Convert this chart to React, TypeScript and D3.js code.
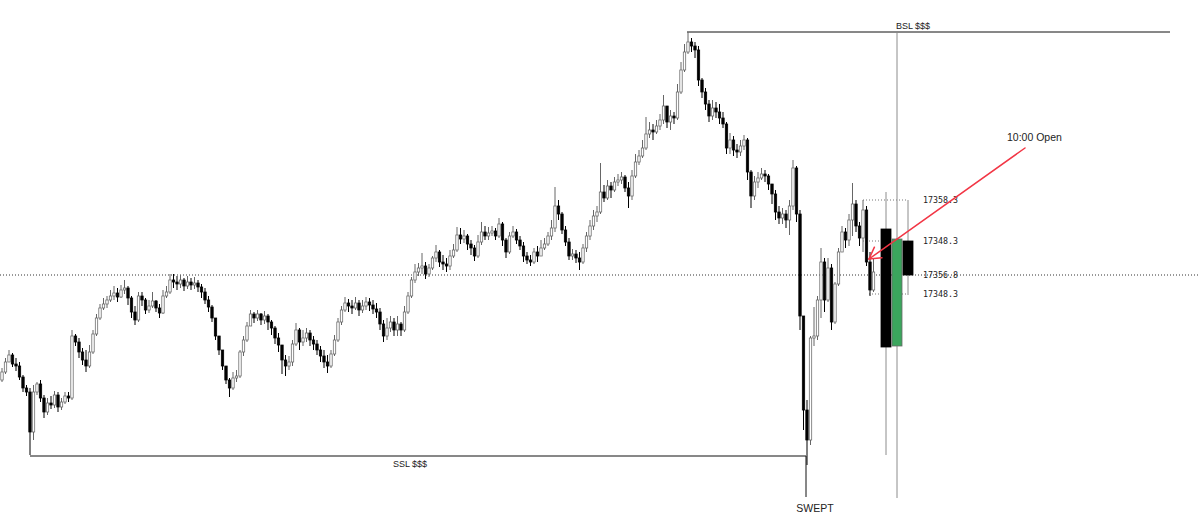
import React from 'react';
import * as d3 from 'd3';

// ---- Data (price units, arbitrary index scale) ----
const firstOpen = 120;
const closes = [
  128, 138, 145, 136, 134, 123, 112, 108, 68, 108,
  116, 102, 88, 97, 95, 105, 93, 98, 104, 102,
  164, 158, 148, 140, 134, 148, 166, 182, 192, 196,
  200, 204, 207, 203, 210, 212, 202, 188, 180, 204,
  200, 190, 194, 199, 192, 187, 204, 208, 220, 218,
  216, 220, 214, 218, 215, 217, 213, 208, 200, 193,
  182, 164, 150, 134, 120, 112, 122, 124, 148, 160,
  174, 186, 182, 186, 180, 184, 178, 172, 162, 155,
  140, 134, 138, 156, 170, 158, 162, 167, 160, 156,
  150, 144, 138, 134, 146, 160, 178, 190, 197, 194,
  192, 197, 190, 194, 198, 195, 191, 188, 176, 164,
  172, 178, 170, 176, 170, 188, 204, 220, 228, 232,
  234, 226, 232, 242, 248, 238, 236, 234, 244, 250,
  265, 261, 264, 256, 252, 244, 258, 268, 264, 267,
  269, 264, 276, 260, 248, 264, 268, 260, 254, 244,
  240, 238, 248, 244, 252, 256, 264, 272, 294, 286,
  270, 258, 244, 246, 242, 238, 252, 264, 274, 284,
  288, 308, 302, 314, 310, 318, 320, 323, 312, 304,
  324, 338, 344, 352, 366, 370, 368, 374, 380, 394,
  378, 384, 382, 408, 430, 448, 458, 454, 450, 420,
  408, 396, 384, 392, 388, 382, 376, 352, 360, 350,
  348, 354, 360, 328, 304, 318, 322, 326, 324, 316,
  306, 288, 282, 286, 280, 294, 332, 286, 184, 90,
  60, 162, 164, 200, 238, 200, 232, 178, 216, 248,
  268, 260, 280, 296, 274, 262, 290, 238, 210, 228,
];
const highs = [
  132, 142, 150, 147, 142, 138, 125, 115, 112, 115,
  118, 120, 105, 102, 104, 109, 108, 102, 108, 108,
  170, 166, 162, 152, 150, 155, 170, 186, 196, 202,
  204, 210, 214, 212, 215, 220, 214, 204, 194, 208,
  208, 202, 200, 208, 200, 196, 210, 214, 226, 226,
  224, 225, 222, 224, 222, 223, 220, 216, 212, 204,
  195, 182, 164, 150, 134, 122, 128, 130, 150, 164,
  178, 190, 188, 190, 187, 189, 186, 180, 174, 167,
  155, 145, 144, 160, 177, 172, 170, 172, 170, 164,
  160, 154, 150, 145, 150, 165, 182, 194, 203, 201,
  200, 203, 200, 200, 203, 202, 200, 197, 192, 180,
  182, 184, 182, 184, 178, 194, 208, 223, 236, 237,
  247, 238, 236, 244, 255, 250, 245, 242, 250, 256,
  273, 272, 270, 266, 260, 255, 265, 278, 274, 273,
  274, 272, 282, 278, 262, 268, 274, 271, 264, 258,
  248, 245, 252, 254, 260, 262, 268, 280, 313, 300,
  288, 274, 262, 251, 250, 248, 256, 268, 280, 290,
  294, 337, 315, 320, 318, 323, 326, 328, 325, 318,
  330, 346, 350, 360, 383, 378, 376, 380, 386, 405,
  394, 390, 388, 416, 438, 456, 468, 462, 458, 454,
  422, 412, 400, 400, 398, 396, 388, 378, 367, 364,
  356, 360, 365, 362, 330, 324, 328, 332, 330, 326,
  316, 310, 294, 292, 290, 300, 340, 334, 290, 184,
  100, 164, 193, 204, 252, 242, 242, 236, 218, 252,
  274, 272, 286, 317, 300, 278, 300, 294, 248, 242,
];
const lows = [
  118, 126, 138, 133, 129, 120, 108, 104, 45, 60,
  105, 98, 82, 85, 91, 92, 88, 90, 96, 98,
  100, 154, 142, 135, 128, 132, 146, 164, 180, 190,
  192, 198, 200, 198, 202, 206, 195, 182, 175, 178,
  194, 186, 187, 192, 188, 182, 186, 202, 206, 212,
  210, 212, 209, 211, 210, 211, 208, 202, 196, 188,
  178, 160, 145, 130, 116, 103, 110, 118, 122, 144,
  158, 174, 177, 179, 175, 176, 170, 165, 156, 148,
  126, 124, 130, 134, 154, 150, 154, 158, 154, 150,
  145, 138, 132, 127, 132, 144, 158, 175, 188, 188,
  186, 190, 184, 187, 190, 189, 186, 182, 170, 158,
  160, 168, 164, 164, 164, 168, 186, 202, 217, 224,
  226, 221, 223, 230, 238, 233, 230, 228, 230, 242,
  248, 256, 257, 250, 245, 239, 242, 255, 260, 260,
  264, 260, 262, 254, 242, 246, 262, 256, 250, 238,
  236, 234, 236, 238, 244, 250, 254, 260, 268, 280,
  266, 254, 240, 240, 237, 230, 236, 248, 260, 270,
  278, 286, 298, 300, 302, 308, 314, 316, 308, 292,
  300, 322, 335, 342, 350, 362, 360, 366, 370, 376,
  372, 370, 376, 380, 406, 428, 446, 448, 442, 414,
  402, 390, 378, 380, 382, 376, 372, 346, 346, 344,
  342, 344, 350, 320, 292, 300, 312, 320, 318, 310,
  296, 280, 276, 276, 272, 265, 290, 278, 170, 70,
  35, 55, 154, 160, 182, 188, 198, 170, 176, 214,
  248, 252, 254, 264, 268, 254, 248, 234, 204, 208,
];

// Higher-timeframe candles (right side)
const htfOpens = [271, 154, 259];
const htfCloses = [153, 261, 225];
const htfHighs = [308, 261, 300];
const htfLows = [45, 154, 205];
const htfColors = ['#000000', '#3ba55d', '#000000'];

// Level labels
const levelLabels = ['17358.3', '17348.3', '17356.8', '17348.3'];
const levelPrices = [300, 259, 225, 206];

const bslLevel = 468;
const sslLevel = 44;
const openLevel = 225;
const sslStartIdx = 8;
const sweptIdx = 230;
const peakIdx = 196;

const W = 1200;
const H = 519;

export default function App() {
  const N = closes.length;
  const x = d3.scaleLinear().domain([0, N - 1]).range([2, 873.5]);
  const y = d3.scaleLinear().domain([0, 500]).range([500, 0]);
  const hx = d3.scaleLinear().domain([0, 2]).range([886, 908]);
  const bw = 2.4;

  const candles = closes.map((c, i) => {
    const o = i === 0 ? firstOpen : closes[i - 1];
    const h = Math.max(highs[i], o, c);
    const l = Math.min(lows[i], o, c);
    const up = c >= o;
    const cx = x(i);
    const top = y(Math.max(o, c));
    const bh = Math.max(1, Math.abs(y(o) - y(c)));
    const col = up ? '#666666' : '#000000';
    return (
      <g key={i}>
        <line x1={cx} x2={cx} y1={y(h)} y2={y(l)} stroke={col} strokeWidth={1} />
        <rect
          x={cx - bw / 2}
          y={top}
          width={bw}
          height={bh}
          fill={up ? '#ffffff' : '#000000'}
          stroke={col}
          strokeWidth={0.75}
        />
      </g>
    );
  });

  const vLineX = hx(1);

  const htf = htfOpens.map((o, i) => {
    const c = htfCloses[i];
    const cx = hx(i);
    const w = 10;
    return (
      <g key={'h' + i}>
        <line x1={cx} x2={cx} y1={y(htfHighs[i])} y2={y(htfLows[i])} stroke="#8c8c8c" strokeWidth={1} />
        <rect
          x={cx - w / 2}
          y={y(Math.max(o, c))}
          width={w}
          height={Math.abs(y(o) - y(c))}
          fill={htfColors[i]}
          stroke={i === 1 ? '#6a6a6a' : '#000'}
          strokeWidth={0.8}
        />
      </g>
    );
  });

  // arrow
  const tail = [1025, 148];
  const tip = [869, y(241)];
  const ang = Math.atan2(tail[1] - tip[1], tail[0] - tip[0]);
  const barb = 13;
  const b1 = [tip[0] + barb * Math.cos(ang + Math.PI / 6), tip[1] + barb * Math.sin(ang + Math.PI / 6)];
  const b2 = [tip[0] + barb * Math.cos(ang - Math.PI / 6), tip[1] + barb * Math.sin(ang - Math.PI / 6)];

  const sans = '"Liberation Sans", Arial, sans-serif';

  return (
    <svg
      width={W}
      height={H}
      style={{ position: 'absolute', left: 0, top: 0, background: '#fff' }}
    >
      <rect x={0} y={0} width={W} height={H} fill="#ffffff" />
      {/* open dotted level */}
      <line x1={0} x2={W} y1={y(openLevel)} y2={y(openLevel)} stroke="#333" strokeWidth={1} strokeDasharray="1 2" />
      {/* dotted box */}
      <line x1={863} x2={908} y1={y(levelPrices[0])} y2={y(levelPrices[0])} stroke="#777" strokeWidth={1} strokeDasharray="1 2" />
      <line x1={863} x2={880} y1={y(levelPrices[1])} y2={y(levelPrices[1])} stroke="#777" strokeWidth={1} strokeDasharray="1 2" />
      <line x1={869} x2={908} y1={y(levelPrices[3])} y2={y(levelPrices[3])} stroke="#777" strokeWidth={1} strokeDasharray="1 2" />
      {/* SSL */}
      <line x1={x(sslStartIdx)} x2={x(sweptIdx) - 1} y1={y(sslLevel)} y2={y(sslLevel)} stroke="#111" strokeWidth={1} />
      <text x={410} y={467} fontSize={9} fontFamily={sans} fill="#222" textAnchor="middle">SSL $$$</text>
      <line x1={x(sweptIdx) - 1} x2={x(sweptIdx) - 1} y1={y(sslLevel)} y2={497} stroke="#111" strokeWidth={1} />
      <text x={815} y={512} fontSize={10.5} fontFamily={sans} fill="#222" textAnchor="middle">SWEPT</text>
      {/* BSL */}
      <line x1={x(peakIdx) - 1} x2={1170} y1={y(bslLevel)} y2={y(bslLevel)} stroke="#111" strokeWidth={1} />
      <text x={913} y={29} fontSize={9} fontFamily={sans} fill="#222" textAnchor="middle">BSL $$$</text>
      {/* vertical session line */}
      <line x1={vLineX} x2={vLineX} y1={33} y2={498} stroke="#8c8c8c" strokeWidth={1} />
      {candles}
      {htf}
      {levelLabels.map((t, i) => (
        <text
          key={'l' + i}
          x={923}
          y={y(levelPrices[i]) + 3}
          fontSize={8.3}
          fontFamily='"DejaVu Sans Mono", monospace'
          fill="#222"
        >
          {t}
        </text>
      ))}
      {/* arrow */}
      <g stroke="#f23645" strokeWidth={1.5} fill="none" strokeLinecap="round">
        <line x1={tail[0]} y1={tail[1]} x2={tip[0]} y2={tip[1]} />
        <line x1={tip[0]} y1={tip[1]} x2={b1[0]} y2={b1[1]} />
        <line x1={tip[0]} y1={tip[1]} x2={b2[0]} y2={b2[1]} />
      </g>
      <text x={1007} y={141} fontSize={10.5} fontFamily={sans} fill="#222">10:00 Open</text>
    </svg>
  );
}
